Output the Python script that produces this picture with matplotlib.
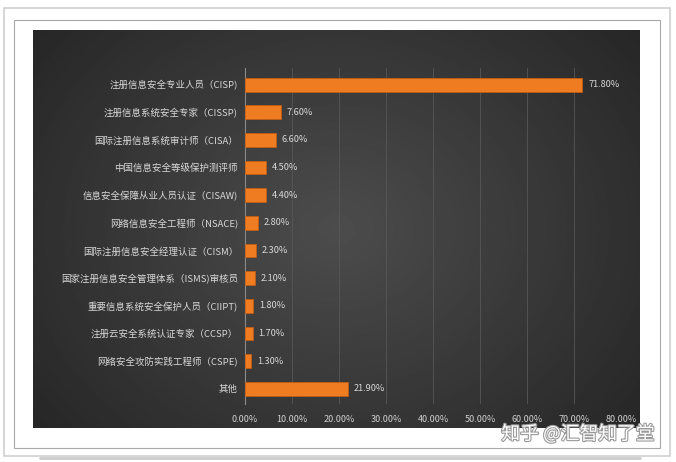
import matplotlib.pyplot as plt
import matplotlib.patheffects as pe
import numpy as np
from matplotlib.patches import Rectangle

plt.rcParams['font.family'] = ['Noto Sans CJK SC', 'DejaVu Sans']

# categories top -> bottom as shown
labels = ['注册信息安全专业人员（CISP)', '注册信息系统安全专家（CISSP)', '国际注册信息系统审计师（CISA）',
          '中国信息安全等级保护测评师', '信息安全保障从业人员认证（CISAW)', '网络信息安全工程师（NSACE)',
          '国际注册信息安全经理认证（CISM）', '国家注册信息安全管理体系（ISMS)审核员',
          '重要信息系统安全保护人员（CIIPT)', '注册云安全系统认证专家（CCSP）',
          '网络安全攻防实践工程师（CSPE)', '其他']
values = [71.8, 7.6, 6.6, 4.5, 4.4, 2.8, 2.3, 2.1, 1.8, 1.7, 1.3, 21.9]
xticks = [0, 10, 20, 30, 40, 50, 60, 70, 80]

fig = plt.figure(figsize=(6.76, 4.62), dpi=100)
W, H = 676, 462

# frame lines / white paper
bg = fig.add_axes([0, 0, 1, 1])
bg.set_xlim(0, W); bg.set_ylim(H, 0); bg.axis('off')
bg.add_patch(Rectangle((4, 8), 666, 448, fill=False, ec='#cfcfcf', lw=1.2))
bg.add_patch(Rectangle((14, 20), 646, 428, fill=False, ec='#a8a8a8', lw=0.8))
bg.plot([40, 640], [458, 458], color='#999999', lw=2, alpha=0.5, solid_capstyle='round')

# dark gradient panel
x0, y0, x1, y1 = 33, 30, 640, 428
pan = fig.add_axes([x0 / W, 1 - y1 / H, (x1 - x0) / W, (y1 - y0) / H])
gx, gy = np.meshgrid(np.linspace(-1, 1, 300), np.linspace(-1, 1, 200))
r = np.sqrt(gx ** 2 * 0.8 + gy ** 2 * 0.5)
pan.imshow(0.30 - 0.13 * r, cmap='gray', vmin=0, vmax=1, aspect='auto', extent=[0, 1, 0, 1])
pan.axis('off')

# bar axes
ax = fig.add_axes([245 / W, 1 - 404 / H, (621 - 245) / W, (404 - 68) / H])
ax.patch.set_alpha(0)
y = np.arange(len(labels))
ax.barh(y, values, height=0.5, color='#F07C22', edgecolor='#c85e10', lw=0.5, zorder=3)
for yi, v in zip(y, values):
    ax.text(v + 1.2, yi, '%.2f%%' % v, va='center', ha='left', fontsize=6.6, color='#d8d8d8')
ax.set_ylim(len(labels) - 0.45, -0.6)
ax.set_xlim(0, 80)
ax.set_yticks(y)
ax.set_yticklabels(labels, fontsize=6.8, color='#d8d8d8')
ax.set_xticks(xticks)
ax.set_xticklabels(['%.2f%%' % t for t in xticks], fontsize=6.5, color='#d0d0d0')
ax.tick_params(length=0, pad=5)
ax.tick_params(axis='x', pad=8)
ax.grid(axis='x', color='#575757', lw=0.6, zorder=0)
for s in ['top', 'right', 'bottom']:
    ax.spines[s].set_visible(False)
ax.spines['left'].set_color('#8a8a8a')
ax.spines['left'].set_linewidth(0.8)

# watermark
fig.text(578 / W, 1 - 434 / H, '知乎 @汇智知了堂', ha='center', va='center',
         fontsize=13.5, color='#ffffff',
         path_effects=[pe.withStroke(linewidth=1.6, foreground='#9a9a9a')])

fig.savefig('out.png', dpi=100)
